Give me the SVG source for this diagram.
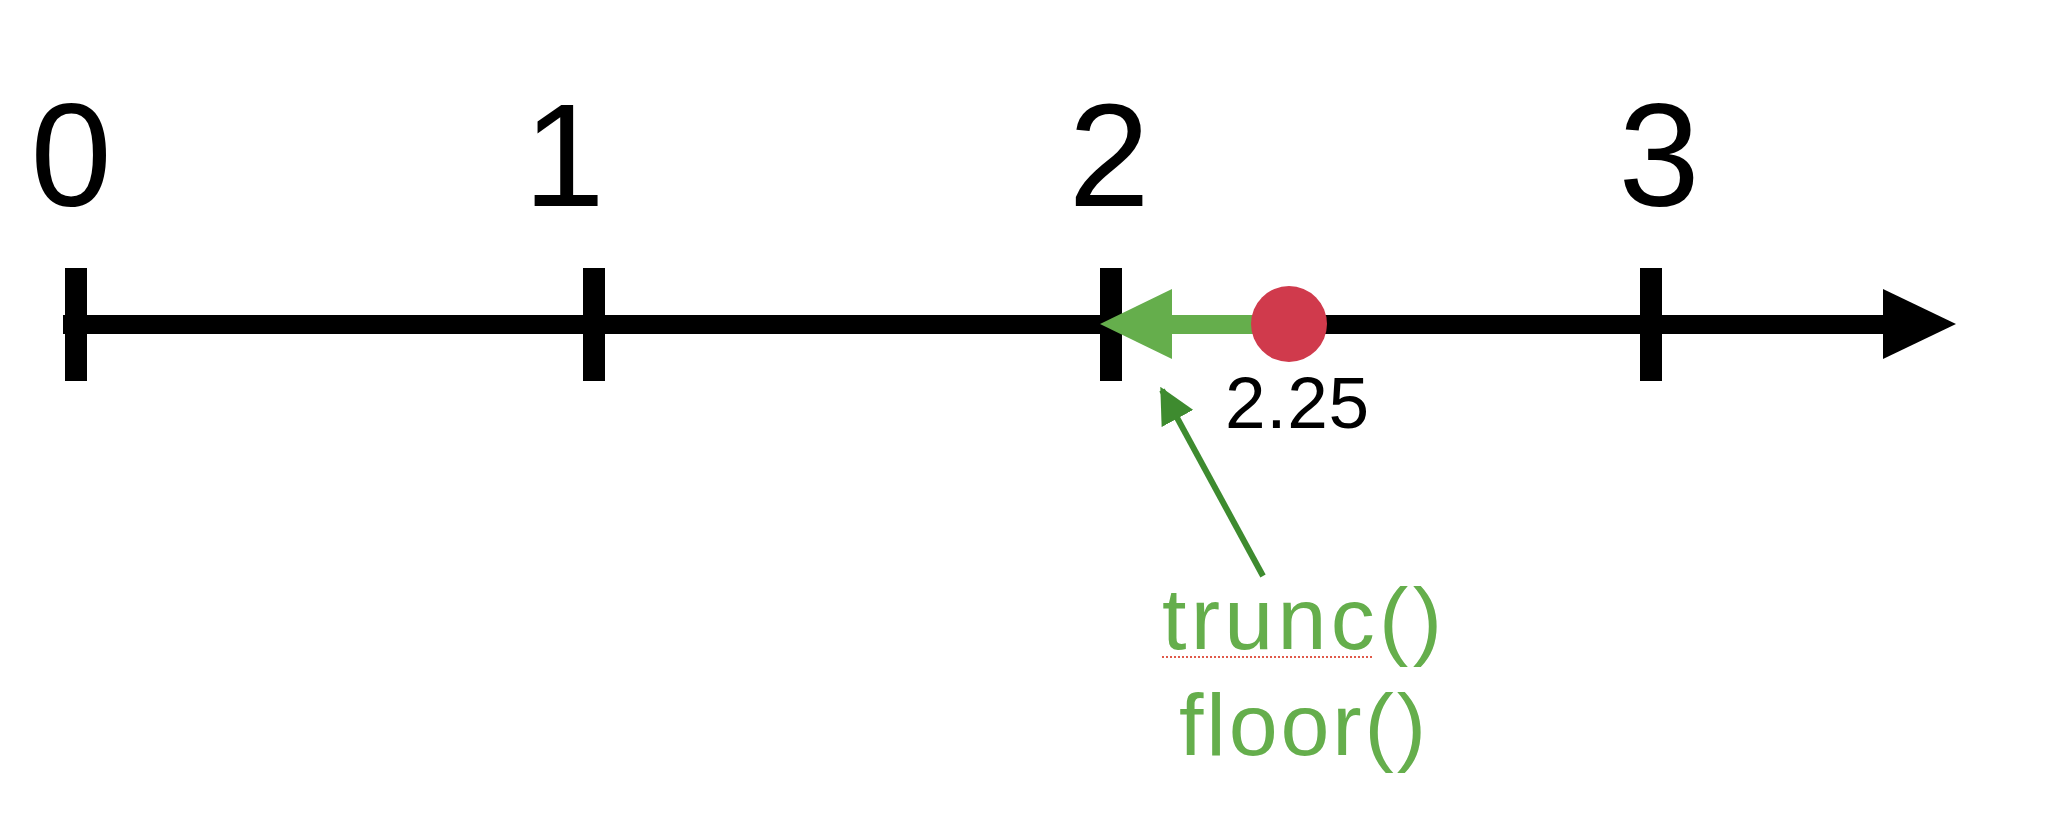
<svg xmlns="http://www.w3.org/2000/svg" width="2048" height="823" viewBox="0 0 2048 823">
<style>
.num{font-family:"Liberation Sans",Arial,sans-serif;font-size:146px;fill:#000;text-anchor:middle}
.fn{font-family:"Liberation Sans",Arial,sans-serif;font-size:88px;fill:#65ae4c}
.tick{fill:#000}
</style>
<defs>
<marker id="gh" viewBox="0 0 10 10" refX="9" refY="5" markerWidth="6" markerHeight="6" orient="auto" markerUnits="strokeWidth"><path d="M0,0 L10,5 L0,10 z" fill="#3e8b2f"/></marker>
</defs>
<rect width="2048" height="823" fill="#fff"/>
<g id="axis">
<rect x="63" y="315" width="1822" height="19" class="tick"/>
<polygon points="1883,289 1956,324 1883,359" fill="#000"/>
<rect x="65" y="268" width="22" height="113" class="tick"/>
<rect x="583" y="268" width="22" height="113" class="tick"/>
<rect x="1100" y="268" width="22" height="113" class="tick"/>
<rect x="1640" y="268" width="22" height="113" class="tick"/>
</g>
<g id="labels">
<text class="num" x="71" y="206">0</text>
<text class="num" x="564" y="206">1</text>
<text class="num" x="1109" y="206">2</text>
<text class="num" x="1659" y="206">3</text>
</g>
<g id="round">
<rect x="1168" y="315" width="95" height="19" fill="#65ae4c"/>
<polygon points="1100,324 1172,289 1172,359" fill="#65ae4c"/>
</g>
<g id="point">
<circle cx="1289" cy="324" r="38" fill="#d03a4c"/>
<text x="1225" y="428" font-family="Liberation Sans,Arial,sans-serif" font-size="73" fill="#000" textLength="144">2.25</text>
</g>
<g id="connectors">
<line x1="1263" y1="576" x2="1162" y2="390" stroke="#3e8b2f" stroke-width="6" marker-end="url(#gh)"/>
</g>
<g id="fnlabel">
<text class="fn" x="1162" y="649" textLength="280">trunc()</text>
<line x1="1162" y1="657" x2="1372" y2="657" stroke="#e05a4a" stroke-width="2" stroke-dasharray="2,2"/>
<text class="fn" x="1179" y="755" textLength="247">floor()</text>
</g>
</svg>
